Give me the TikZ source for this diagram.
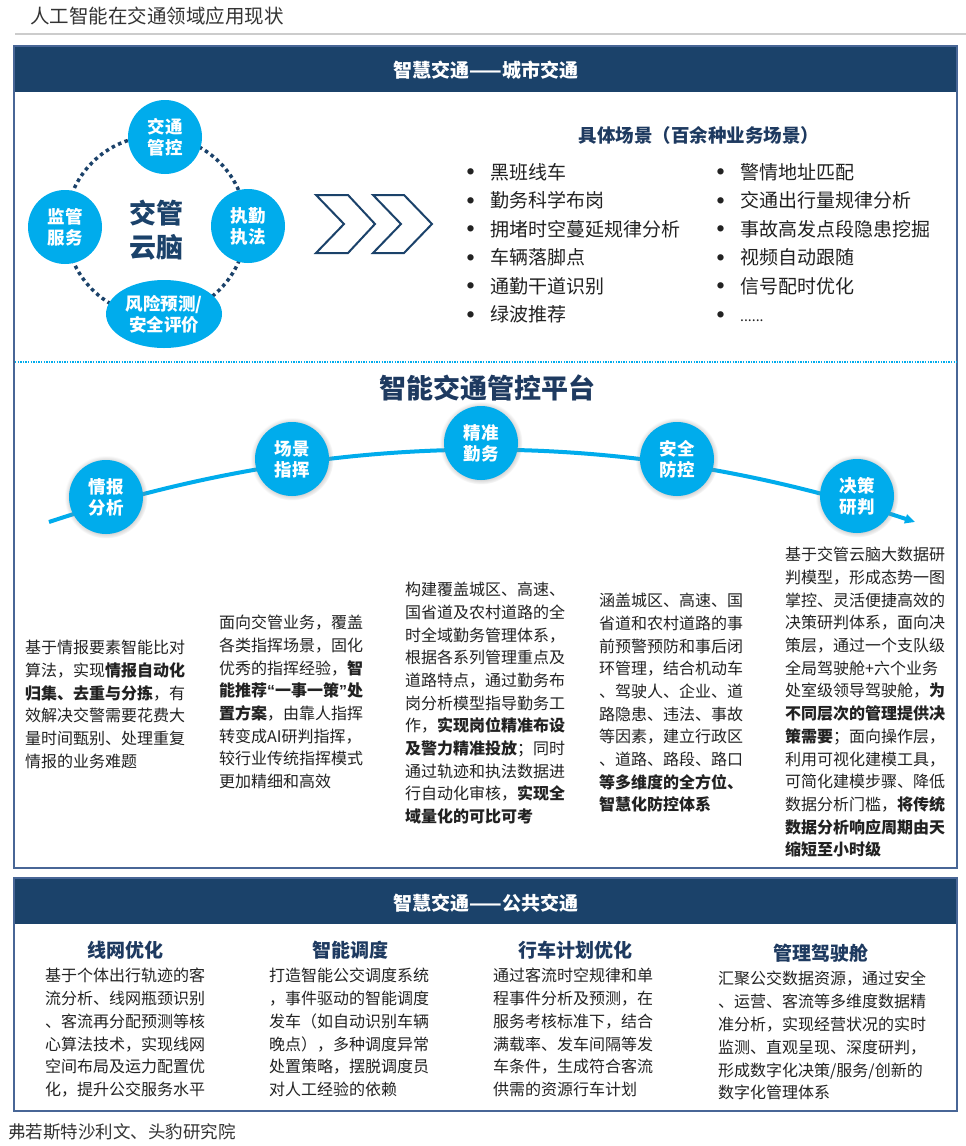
\documentclass[tikz,border=0pt]{standalone}
\usepackage{fontspec}
\setmainfont{Noto Sans CJK SC}
\newfontfamily\qfont{Liberation Sans}
\usetikzlibrary{arrows.meta,shadows,shapes.geometric}
\definecolor{navy}{RGB}{27,66,106}
\definecolor{headnavy}{RGB}{30,58,96}
\definecolor{skyblue}{RGB}{0,172,236}
\definecolor{boxborder}{RGB}{72,102,150}
\definecolor{txt}{RGB}{34,34,34}
\definecolor{titlegray}{RGB}{51,51,51}
\tikzset{
  blob/.style={circle, fill=skyblue, text=white, minimum size=74pt, inner sep=0pt, align=center,
    font=\fontsize{17.5}{21}\selectfont\bfseries},
  glowblob/.style={blob, circular drop shadow={shadow xshift=0pt, shadow yshift=0pt, shadow scale=1.12, fill=black!45, opacity=0.45}},
  bodytext/.style={anchor=north west, inner sep=0pt, align=left, text=txt, font=\fontsize{16}{22.7}\selectfont},
  bottext/.style={anchor=north west, inner sep=0pt, align=left, text=txt, font=\fontsize{16}{22.8}\selectfont},
  listtext/.style={anchor=north west, inner sep=0pt, align=left, text=txt, font=\fontsize{19}{28.5}\selectfont},
  hdrtext/.style={text=white, inner sep=0pt, font=\fontsize{19}{19}\selectfont\bfseries},
  subhead/.style={text=headnavy, inner sep=0pt, font=\fontsize{19}{19}\selectfont\bfseries},
}
\newcommand{\bul}{\makebox[23pt][l]{\raisebox{4.3pt}{\fontsize{7}{7}\selectfont ●}}}
\begin{document}
\begin{tikzpicture}[x=1pt,y=-1pt]
\useasboundingbox (0,0) rectangle (966,1146);
\fill[white] (0,0) rectangle (966,1146);

% title
\node[anchor=west, inner sep=0pt, text=titlegray, font=\fontsize{19.5}{19.5}\selectfont] (title) at (30,16) {人工智能在交通领域应用现状};
\draw[black!20, line width=1.5pt] (15,34) -- (966,34);

% ===== top box =====
\fill[navy] (14,46) rectangle (957,92);
\draw[boxborder, line width=2pt] (14,46) rectangle (957,868);
\node[hdrtext] (hdr1) at (486,70) {智慧交通——城市交通};

% ring
\draw[navy, line width=3.5pt, dash pattern=on 3.5pt off 3.5pt] (156,226) circle (90);
\node[blob] (jtgk) at (165,137) {交通\\管控};
\node[blob] (jgfw) at (65,227) {监管\\服务};
\node[blob] (zqzf) at (248,226) {执勤\\执法};
\node[blob, ellipse, minimum width=116pt, minimum height=68pt] (fxyc) at (164,314) {风险预测/\\安全评价};
\node[text=navy, inner sep=0pt, align=center, font=\fontsize{27}{34}\selectfont\bfseries] (brain) at (156,230) {交管\\云脑};

% chevrons
\draw[navy, line width=2pt, fill=white, line join=miter] (316,195) -- (348,195) -- (375,224) -- (348,253) -- (316,253) -- (344,224) -- cycle;
\draw[navy, line width=2pt, fill=white, line join=miter] (373,195) -- (404,195) -- (432,224) -- (404,253) -- (373,253) -- (401,224) -- cycle;

% scenes list
\node[text=headnavy, inner sep=0pt, font=\fontsize{18.5}{18.5}\selectfont\bfseries] (scenehead) at (699,135) {具体场景（百余种业务场景）};
\node[listtext] (list1) at (467,163) {\bul 黑班线车\\\bul 勤务科学布岗\\\bul 拥堵时空蔓延规律分析\\\bul 车辆落脚点\\\bul 通勤干道识别\\\bul 绿波推荐};
\node[listtext] (list2) at (717,163) {\bul 警情地址匹配\\\bul 交通出行量规律分析\\\bul 事故高发点段隐患挖掘\\\bul 视频自动跟随\\\bul 信号配时优化\\\bul {\fontsize{14}{14}\selectfont ......}};

% separator
\draw[skyblue, line width=1.3pt, dash pattern=on 1.3pt off 1.3pt] (15,362) -- (957,362);

% platform
\node[text=headnavy, inner sep=0pt, font=\fontsize{27}{27}\selectfont\bfseries] (platform) at (487,388) {智能交通管控平台};
\coordinate (arcS) at (49,522);
\coordinate (arcE) at (915,522);
\draw[skyblue, line width=4pt, -{Triangle[length=10pt,width=9pt]}] (arcS) .. controls (337.7,426) and (626.3,426) .. (arcE);
\node[glowblob] (qbfx) at (106,497) {情报\\分析};
\node[glowblob] (cjzh) at (292,459) {场景\\指挥};
\node[glowblob] (jzqw) at (481,443) {精准\\勤务};
\node[glowblob] (aqfk) at (677,459) {安全\\防控};
\node[glowblob] (jcyp) at (857,496) {决策\\研判};

% descriptions
\node[bodytext] (d1) at (25,640) {基于情报要素智能比对\\算法，实现\textbf{情报自动化}\\\textbf{归集、去重与分拣}，有\\效解决交警需要花费大\\量时间甄别、处理重复\\情报的业务难题};
\node[bodytext] (d2) at (219,615) {面向交管业务，覆盖\\各类指挥场景，固化\\优秀的指挥经验，\textbf{智}\\\textbf{能推荐{\qfont“}一事一策{\qfont”}处}\\\textbf{置方案}，由靠人指挥\\转变成AI研判指挥，\\较行业传统指挥模式\\更加精细和高效};
\node[bodytext] (d3) at (405,582) {构建覆盖城区、高速、\\国省道及农村道路的全\\时全域勤务管理体系，\\根据各系列管理重点及\\道路特点，通过勤务布\\岗分析模型指导勤务工\\作，\textbf{实现岗位精准布设}\\\textbf{及警力精准投放}；同时\\通过轨迹和执法数据进\\行自动化审核，\textbf{实现全}\\\textbf{域量化的可比可考}};
\node[bodytext] (d4) at (599,593) {涵盖城区、高速、国\\省道和农村道路的事\\前预警预防和事后闭\\环管理，结合机动车\\、驾驶人、企业、道\\路隐患、违法、事故\\等因素，建立行政区\\、道路、路段、路口\\\textbf{等多维度的全方位、}\\\textbf{智慧化防控体系}};
\node[bodytext] (d5) at (785,547) {基于交管云脑大数据研\\判模型，形成态势一图\\掌控、灵活便捷高效的\\决策研判体系，面向决\\策层，通过一个支队级\\全局驾驶舱+六个业务\\处室级领导驾驶舱，\textbf{为}\\\textbf{不同层次的管理提供决}\\\textbf{策需要}；面向操作层，\\利用可视化建模工具，\\可简化建模步骤、降低\\数据分析门槛，\textbf{将传统}\\\textbf{数据分析响应周期由天}\\\textbf{缩短至小时级}};

% ===== bottom box =====
\fill[navy] (14,878) rectangle (957,924);
\draw[boxborder, line width=2pt] (14,878) rectangle (957,1111);
\node[hdrtext] (hdr2) at (486,903) {智慧交通——公共交通};

\node[subhead] (h1) at (125,950) {线网优化};
\node[subhead] (h2) at (350,950) {智能调度};
\node[subhead] (h3) at (575,950) {行车计划优化};
\node[subhead] (h4) at (821,953) {管理驾驶舱};

\node[bottext] (b1) at (45,968) {基于个体出行轨迹的客\\流分析、线网瓶颈识别\\、客流再分配预测等核\\心算法技术，实现线网\\空间布局及运力配置优\\化，提升公交服务水平};
\node[bottext] (b2) at (269,968) {打造智能公交调度系统\\，事件驱动的智能调度\\发车（如自动识别车辆\\晚点），多种调度异常\\处置策略，摆脱调度员\\对人工经验的依赖};
\node[bottext] (b3) at (493,968) {通过客流时空规律和单\\程事件分析及预测，在\\服务考核标准下，结合\\满载率、发车间隔等发\\车条件，生成符合客流\\供需的资源行车计划};
\node[bottext] (b4) at (718,971) {汇聚公交数据资源，通过安全\\、运营、客流等多维度数据精\\准分析，实现经营状况的实时\\监测、直观呈现、深度研判，\\形成数字化决策/服务/创新的\\数字化管理体系};

% source
\node[anchor=west, inner sep=0pt, text=titlegray, font=\fontsize{17.5}{17.5}\selectfont] (source) at (8,1132) {弗若斯特沙利文、头豹研究院};
\end{tikzpicture}
\end{document}
